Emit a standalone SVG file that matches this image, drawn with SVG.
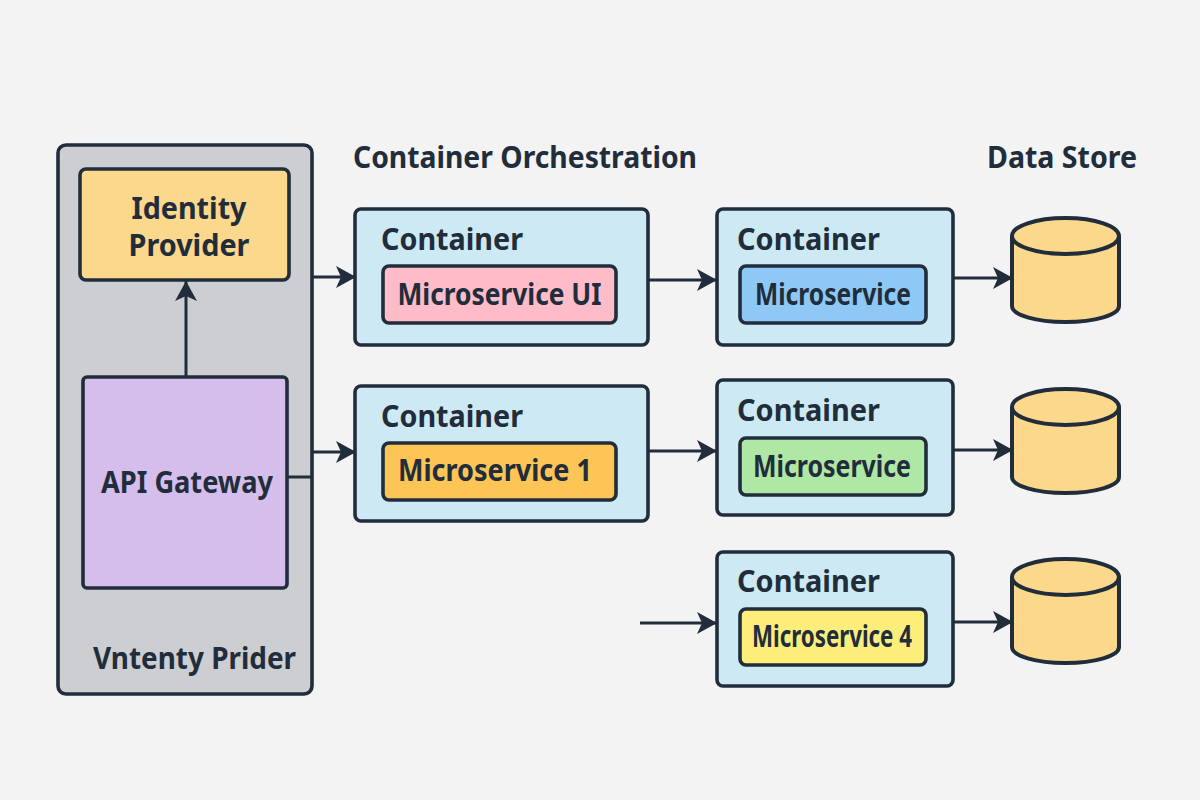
<svg xmlns="http://www.w3.org/2000/svg" width="1200" height="800" viewBox="0 0 1200 800">
<defs>
<marker id="arr" markerUnits="userSpaceOnUse" markerWidth="24" markerHeight="24" refX="20" refY="11" orient="auto"><path d="M0 0L20 11L0 22L5 11Z" fill="#212d3b"/></marker>
<path id="cyl" d="M0 14V84C0 93 24 100 53.500 100S107 93 107 84V14"/>
</defs>
<style>
text{font-family:"Noto Sans","Open Sans",sans-serif;font-weight:700;fill:#212d3b;font-size:30px}
.b{stroke:#212d3b;stroke-width:3.600}
.c{fill:#cdeaf4}
.m{text-anchor:middle}
#connectors path{fill:none;stroke:#212d3b;stroke-width:3}
#connectors .a{marker-end:url(#arr)}
.db{fill:#fbd88c;stroke:#212d3b;stroke-width:4}
</style>
<rect width="1200" height="800" fill="#f3f3f4"/>
<g id="identity-panel"><rect class="b" x="58" y="145" width="254" height="549" rx="8" fill="#cdced1"/><text x="93" y="669" textLength="203" lengthAdjust="spacingAndGlyphs">Vntenty Prider</text></g>
<g id="identity-provider"><rect class="b" x="80" y="169" width="209" height="111" rx="6" fill="#fbd88c"/><text class="m" x="189" y="219" textLength="115" lengthAdjust="spacingAndGlyphs">Identity</text><text class="m" x="189" y="256" textLength="121" lengthAdjust="spacingAndGlyphs">Provider</text></g>
<g id="api-gateway"><rect class="b" x="83" y="377" width="204" height="211" rx="4" fill="#d5bdec"/><text class="m" x="187" y="493" textLength="172" lengthAdjust="spacingAndGlyphs">API Gateway</text></g>
<g id="title-orchestration"><text x="353" y="168" textLength="344" lengthAdjust="spacingAndGlyphs">Container Orchestration</text></g>
<g id="title-store"><text x="987" y="168" textLength="150" lengthAdjust="spacingAndGlyphs">Data Store</text></g>
<g id="c1"><rect class="b c" x="355" y="209" width="293" height="136" rx="6"/><text x="381" y="250" textLength="142" lengthAdjust="spacingAndGlyphs">Container</text><rect class="b" x="383" y="266" width="233" height="57" rx="6" fill="#fdbcc7"/><text class="m" x="499.500" y="305" textLength="204" lengthAdjust="spacingAndGlyphs">Microservice UI</text></g>
<g id="c2"><rect class="b c" x="717" y="209" width="236" height="136" rx="6"/><text x="737" y="250" textLength="143" lengthAdjust="spacingAndGlyphs">Container</text><rect class="b" x="740" y="266" width="186" height="57" rx="6" fill="#8ec8f4"/><text class="m" x="833" y="305" textLength="156" lengthAdjust="spacingAndGlyphs">Microservice</text></g>
<g id="c3"><rect class="b c" x="355" y="386" width="293" height="135" rx="6"/><text x="381" y="427" textLength="142" lengthAdjust="spacingAndGlyphs">Container</text><rect class="b" x="383" y="443" width="233" height="57" rx="6" fill="#fdc555"/><text class="m" x="495" y="481" textLength="194" lengthAdjust="spacingAndGlyphs">Microservice 1</text></g>
<g id="c4"><rect class="b c" x="717" y="380" width="236" height="135" rx="6"/><text x="737" y="421" textLength="143" lengthAdjust="spacingAndGlyphs">Container</text><rect class="b" x="740" y="438" width="186" height="57" rx="6" fill="#aee8a4"/><text class="m" x="832" y="477" textLength="158" lengthAdjust="spacingAndGlyphs">Microservice</text></g>
<g id="c5"><rect class="b c" x="717" y="552" width="236" height="134" rx="6"/><text x="737" y="592" textLength="143" lengthAdjust="spacingAndGlyphs">Container</text><rect class="b" x="740" y="609" width="186" height="56" rx="6" fill="#fdee7c"/><text class="m" x="832" y="647" textLength="160" lengthAdjust="spacingAndGlyphs">Microservice 4</text></g>
<g id="db1"><use href="#cyl" class="db" x="1012" y="222"/><ellipse class="db" cx="1065.500" cy="236" rx="53.500" ry="18"/></g>
<g id="db2"><use href="#cyl" class="db" x="1012" y="393"/><ellipse class="db" cx="1065.500" cy="407" rx="53.500" ry="18"/></g>
<g id="db3"><use href="#cyl" class="db" x="1012" y="563"/><ellipse class="db" cx="1065.500" cy="577" rx="53.500" ry="18"/></g>
<g id="connectors">
<path class="a" d="M186 377V281"/>
<path class="a" d="M313 277H356"/>
<path d="M287 477H312"/>
<path class="a" d="M313 452H356"/>
<path class="a" d="M649 280H717"/>
<path class="a" d="M649 451H717"/>
<path class="a" d="M640 623H717"/>
<path class="a" d="M954 278H1013"/>
<path class="a" d="M954 450H1013"/>
<path class="a" d="M954 622H1013"/>
</g>
</svg>
